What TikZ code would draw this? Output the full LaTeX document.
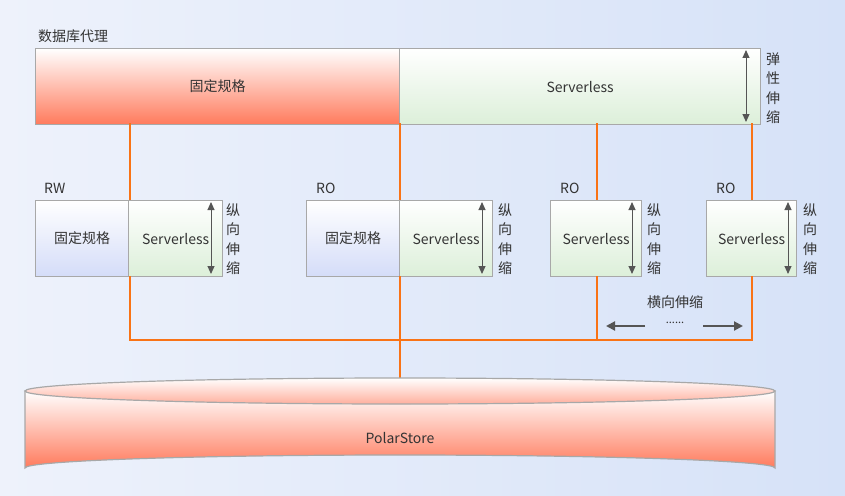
\documentclass[tikz,border=0pt]{standalone}
\usepackage{fontspec}
\setmainfont{Noto Sans CJK SC}
\usetikzlibrary{arrows.meta,shapes.geometric}
\definecolor{bgA}{HTML}{EEF2FB}
\definecolor{bgB}{HTML}{D6E2F8}
\definecolor{redB}{HTML}{FF7A5C}
\definecolor{greenB}{HTML}{DCEFD9}
\definecolor{blueB}{HTML}{D4DCF8}
\definecolor{org}{HTML}{F97316}
\definecolor{bd}{HTML}{A8A8A8}
\definecolor{arr}{HTML}{555555}
\begin{document}
\begin{tikzpicture}[x=1pt,y=-1pt,font=\fontsize{14}{16}\selectfont,
  box/.style={draw=bd,line width=1.2pt,minimum height=76pt,inner sep=0pt,anchor=north west,text=black!80},
  red/.style={box,top color=white,bottom color=redB},
  grn/.style={box,top color=white,bottom color=greenB},
  blu/.style={box,top color=white,bottom color=blueB},
  ol/.style={org,line width=2pt},
  va/.style={arr,line width=1pt,{Triangle[length=8pt,width=7pt]}-{Triangle[length=8pt,width=7pt]}},
  vt/.style={align=center,font=\fontsize{14}{19.5}\selectfont,text=black!80,inner sep=0pt},
  lb/.style={anchor=west,inner sep=0pt,text=black!80}]
\shade[left color=bgA,right color=bgB] (0,0) rectangle (845,495);
\useasboundingbox (0,0) rectangle (845,495);
\node[lb] (t) at (38,36) {数据库代理};
\node[red,minimum width=364pt] (pf) at (35,48) {固定规格};
\node[grn,minimum width=361pt] (ps) at (399,48) {Serverless};
\coordinate (pa1) at (746,50); \coordinate (pa2) at (746,122);
\draw[va] (pa1) -- (pa2);
\node[vt] (pt) at (773,88) {弹\\性\\伸\\缩};
\node[lb] (l1) at (44,188) {RW};
\node[blu,minimum width=93pt] (f1) at (35,200) {固定规格};
\node[grn,minimum width=94pt] (s1) at (128,200) {Serverless};
\node[lb] (l2) at (316,188) {RO};
\node[blu,minimum width=93pt] (f2) at (306,200) {固定规格};
\node[grn,minimum width=93pt] (s2) at (399,200) {Serverless};
\node[lb] (l3) at (560,188) {RO};
\node[grn,minimum width=91pt] (s3) at (550,200) {Serverless};
\node[lb] (l4) at (716,188) {RO};
\node[grn,minimum width=90pt] (s4) at (706,200) {Serverless};
\foreach \i/\x/\tx in {1/211/233,2/482/505,3/632/654,4/788/810}{
  \coordinate (a\i) at (\x,202); \coordinate (b\i) at (\x,274);
  \draw[va] (a\i) -- (b\i);
  \node[vt] (v\i) at (\tx,239) {纵\\向\\伸\\缩};
}
\coordinate (u1) at (130,123); \coordinate (u2) at (400,123);
\coordinate (u3) at (597,123); \coordinate (u4) at (752,123);
\coordinate (d1) at (130,200); \coordinate (d2) at (400,200);
\coordinate (d3) at (597,200); \coordinate (d4) at (752,200);
\foreach \i in {1,...,4}{\draw[ol] (u\i) -- (d\i);}
\coordinate (e1) at (130,276); \coordinate (e2) at (400,276);
\coordinate (e3) at (597,276); \coordinate (e4) at (752,276);
\draw[ol] (e1) -- (130,340) -- (752,340) -- (e4);
\draw[ol] (e3) -- (597,340);
\draw[ol] (e2) -- (400,379);
\node[text=black!80] (h) at (675,302) {横向伸缩};
\coordinate (hl1) at (645,326); \coordinate (hl2) at (606,326);
\coordinate (hr1) at (703,326); \coordinate (hr2) at (743,326);
\draw[arr,line width=2pt,-{Triangle[length=9pt,width=9pt]}] (hl1) -- (hl2);
\draw[arr,line width=2pt,-{Triangle[length=9pt,width=9pt]}] (hr1) -- (hr2);
\node[text=black!80,font=\fontsize{11}{13}\selectfont] (dots) at (675,323) {......};
\shade[top color=white,bottom color=redB,draw=bd,line width=1.2pt]
  (25,391) -- (25,468) arc[start angle=180,end angle=360,x radius=375,y radius=13] -- (775,391) -- cycle;
\shade[top color=white,bottom color=redB!60!white,draw=bd,line width=1.2pt] (400,391) ellipse[x radius=375,y radius=13];
\node[text=black!80] (ps2) at (400,438) {PolarStore};
\end{tikzpicture}
\end{document}
